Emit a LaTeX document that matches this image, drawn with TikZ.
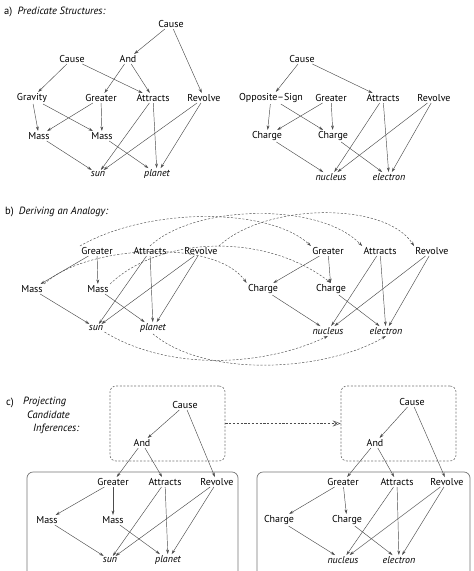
\documentclass[tikz,border=0pt]{standalone}
\usepackage{fontspec}
\setmainfont{PT Sans}
\usetikzlibrary{arrows.meta}
\tikzset{
  term/.style={font=\fontsize{10}{12}\selectfont, inner sep=1.2pt},
  ent/.style={term, font=\fontsize{10}{12}\selectfont\itshape},
  rel/.style={draw=black!70, line width=0.45pt, -{Stealth[length=4.5pt,width=2.8pt]}},
  map/.style={rel, dash pattern=on 2.2pt off 1.6pt},
  heading/.style={font=\fontsize{10.5}{13.5}\selectfont, anchor=west, inner sep=0pt},
  region/.style={draw=black!55, line width=0.7pt, rounded corners=6pt},
  frame/.style={draw=black!55, line width=0.6pt, rounded corners=6pt, dash pattern=on 2pt off 1.6pt, inner sep=0pt},
}
\begin{document}
\begin{tikzpicture}[x=1pt,y=-1pt]
			\useasboundingbox (0,0) rectangle (474,571);
			%%%%% a) PREDICATE STRUCTURES %%%%%
			\node[heading] (aTitle) at (4,12) {a)\enspace\textit{Predicate Structures:}};
			
			% solar system
			\node[term] (aCauseTop) at (171,24) {Cause};
			\node[term] (aCause) at (72,59) {Cause};
			\node[term] (aAnd) at (128,59) {And};
			\node[term] (aGravity) at (32,98) {Gravity};
			\node[term] (aGreater) at (101,98) {Greater};
			\node[term] (aAttracts) at (153,98) {Attracts};
			\node[term] (aRevolve) at (204,98) {Revolve};
			\node[term] (aMassA) at (39,136) {Mass};
			\node[term] (aMassB) at (102,136) {Mass};
			\node[ent] (aSun) at (98,174) {sun};
			\node[ent] (aPlanet) at (157,174) {planet};
			
			\draw[rel] (aCauseTop) -- (aAnd);
			\draw[rel] (aCauseTop) -- (aRevolve);
			\draw[rel] (aCause) -- (aGravity);
			\draw[rel] (aCause) -- (aAttracts);
			\draw[rel] (aAnd) -- (aGreater);
			\draw[rel] (aAnd) -- (aAttracts);
			\draw[rel] (aGravity) -- (aMassA);
			\draw[rel] (aGravity) -- (aMassB);
			\draw[rel] (aGreater) -- (aMassA);
			\draw[rel] (aGreater) -- (aMassB);
			\draw[rel] (aAttracts) -- (aSun);
			\draw[rel] (aAttracts) -- (aPlanet);
			\draw[rel] (aRevolve) -- (aSun);
			\draw[rel] (aRevolve) -- (aPlanet);
			\draw[rel] (aMassA) -- (aSun);
			\draw[rel] (aMassB) -- (aPlanet);
			
			% atom
			\node[term] (aCauseR) at (302,59) {Cause};
			\node[term] (aOpposite) at (271,98) {Opposite–Sign};
			\node[term] (aGreaterR) at (331,98) {Greater};
			\node[term] (aAttractsR) at (383,98) {Attracts};
			\node[term] (aRevolveR) at (434,98) {Revolve};
			\node[term] (aChargeA) at (267,136) {Charge};
			\node[term] (aChargeB) at (333,136) {Charge};
			\node[ent] (aNucleus) at (331,177) {nucleus};
			\node[ent] (aElectron) at (389,177) {electron};
			
			\draw[rel] (aCauseR) -- (aOpposite);
			\draw[rel] (aCauseR) -- (aAttractsR);
			\draw[rel] (aOpposite) -- (aChargeA);
			\draw[rel] (aOpposite) -- (aChargeB);
			\draw[rel] (aGreaterR) -- (aChargeA);
			\draw[rel] (aGreaterR) -- (aChargeB);
			\draw[rel] (aAttractsR) -- (aNucleus);
			\draw[rel] (aAttractsR) -- (aElectron);
			\draw[rel] (aRevolveR) -- (aNucleus);
			\draw[rel] (aRevolveR) -- (aElectron);
			\draw[rel] (aChargeA) -- (aNucleus);
			\draw[rel] (aChargeB) -- (aElectron);
			
			%%%%% b) DERIVING AN ANALOGY %%%%%
			\node[heading] (bTitle) at (5,212) {b)\enspace\textit{Deriving an Analogy:}};
			
			\node[term] (bGreater) at (97,251) {Greater};
			\node[term] (bAttracts) at (150,251) {Attracts};
			\node[term] (bRevolve) at (201,251) {Revolve};
			\node[term] (bMassA) at (32,289) {Mass};
			\node[term] (bMassB) at (98,289) {Mass};
			\node[ent] (bSun) at (96,328) {sun};
			\node[ent] (bPlanet) at (153,328) {planet};
			
			\node[term] (bGreaterR) at (328,251) {Greater};
			\node[term] (bAttractsR) at (380,251) {Attracts};
			\node[term] (bRevolveR) at (432,251) {Revolve};
			\node[term] (bChargeA) at (263,289) {Charge};
			\node[term] (bChargeB) at (331,289) {Charge};
			\node[ent] (bNucleus) at (328,331) {nucleus};
			\node[ent] (bElectron) at (386,331) {electron};
			
			\draw[rel] (bGreater) -- (bMassA);
			\draw[rel] (bGreater) -- (bMassB);
			\draw[rel] (bAttracts) -- (bSun);
			\draw[rel] (bAttracts) -- (bPlanet);
			\draw[rel] (bRevolve) -- (bSun);
			\draw[rel] (bRevolve) -- (bPlanet);
			\draw[rel] (bMassA) -- (bSun);
			\draw[rel] (bMassB) -- (bPlanet);
			
			\draw[rel] (bGreaterR) -- (bChargeA);
			\draw[rel] (bGreaterR) -- (bChargeB);
			\draw[rel] (bAttractsR) -- (bNucleus);
			\draw[rel] (bAttractsR) -- (bElectron);
			\draw[rel] (bRevolveR) -- (bNucleus);
			\draw[rel] (bRevolveR) -- (bElectron);
			\draw[rel] (bChargeA) -- (bNucleus);
			\draw[rel] (bChargeB) -- (bElectron);
			
			% correspondences
			\draw[map] (bGreater.north west) .. controls (150,206) and (270,208) .. (bGreaterR.north west);
			\draw[map] (bAttracts.north) .. controls (195,204) and (320,202) .. (bAttractsR.north west);
			\draw[map] (bRevolve.north east) .. controls (265,203) and (385,201) .. (bRevolveR.north west);
			\draw[map] (bMassA.north east) .. controls (85,245) and (215,238) .. (bChargeA.north west);
			\draw[map] (bMassB.north east) .. controls (160,236) and (265,232) .. (bChargeB.north);
			\draw[map] (bSun.south east) .. controls (170,372) and (265,366) .. (bNucleus.south);
			\draw[map] (bPlanet.south) .. controls (205,378) and (325,372) .. (bElectron.south);
			
			%%%%% c) PROJECTING CANDIDATE INFERENCES %%%%%
			\node[heading] (cTag) at (6,403) {c)};
			\node[heading, anchor=north west, align=left, font=\fontsize{10.5}{13.5}\selectfont\itshape] (cTitle) at (23,397) {Projecting\\\hspace{4pt}Candidate\\\hspace{10pt}Inferences:};
			
			\node[frame, minimum width=115, minimum height=75] (cBox) at (167.5,423.5) {};
			\node[frame, minimum width=115, minimum height=75] (cBoxR) at (398.5,423.5) {};
			\draw[map, -{Stealth[open,length=8pt,width=6pt,inset=3pt]}] (cBox.east) -- (cBoxR.west);
			
			\draw[region] (27,472) rectangle (238,620);
			\draw[region] (257,472) rectangle (470,620);
			
			% projected structure, solar system
			\node[term] (cCause) at (185,405) {Cause};
			\node[term] (cAnd) at (142,443) {And};
			\node[term] (cGreater) at (113,482) {Greater};
			\node[term] (cAttracts) at (165,482) {Attracts};
			\node[term] (cRevolve) at (217,482) {Revolve};
			\node[term] (cMassA) at (47,520) {Mass};
			\node[term] (cMassB) at (113,520) {Mass};
			\node[ent] (cSun) at (110,560) {sun};
			\node[ent] (cPlanet) at (168,560) {planet};
			
			\draw[rel] (cCause) -- (cAnd);
			\draw[rel] (cCause) -- (cRevolve);
			\draw[rel] (cAnd) -- (cGreater);
			\draw[rel] (cAnd) -- (cAttracts);
			\draw[rel] (cGreater) -- (cMassA);
			\draw[rel] (cGreater) -- (cMassB);
			\draw[rel] (cAttracts) -- (cSun);
			\draw[rel] (cAttracts) -- (cPlanet);
			\draw[rel] (cRevolve) -- (cSun);
			\draw[rel] (cRevolve) -- (cPlanet);
			\draw[rel] (cMassA) -- (cSun);
			\draw[rel] (cMassB) -- (cPlanet);
			
			% projected structure, atom
			\node[term] (cCauseR) at (412,402) {Cause};
			\node[term] (cAndR) at (375,443) {And};
			\node[term] (cGreaterR) at (343,482) {Greater};
			\node[term] (cAttractsR) at (397,482) {Attracts};
			\node[term] (cRevolveR) at (447,482) {Revolve};
			\node[term] (cChargeA) at (279,520) {Charge};
			\node[term] (cChargeB) at (347,520) {Charge};
			\node[ent] (cNucleus) at (343,560) {nucleus};
			\node[ent] (cElectron) at (399,560) {electron};
			
			\draw[rel] (cCauseR) -- (cAndR);
			\draw[rel] (cCauseR) -- (cRevolveR);
			\draw[rel] (cAndR) -- (cGreaterR);
			\draw[rel] (cAndR) -- (cAttractsR);
			\draw[rel] (cGreaterR) -- (cChargeA);
			\draw[rel] (cGreaterR) -- (cChargeB);
			\draw[rel] (cAttractsR) -- (cNucleus);
			\draw[rel] (cAttractsR) -- (cElectron);
			\draw[rel] (cRevolveR) -- (cNucleus);
			\draw[rel] (cRevolveR) -- (cElectron);
			\draw[rel] (cChargeA) -- (cNucleus);
			\draw[rel] (cChargeB) -- (cElectron);
			
			%%%%% END %%%%%
\end{tikzpicture}
\end{document}
